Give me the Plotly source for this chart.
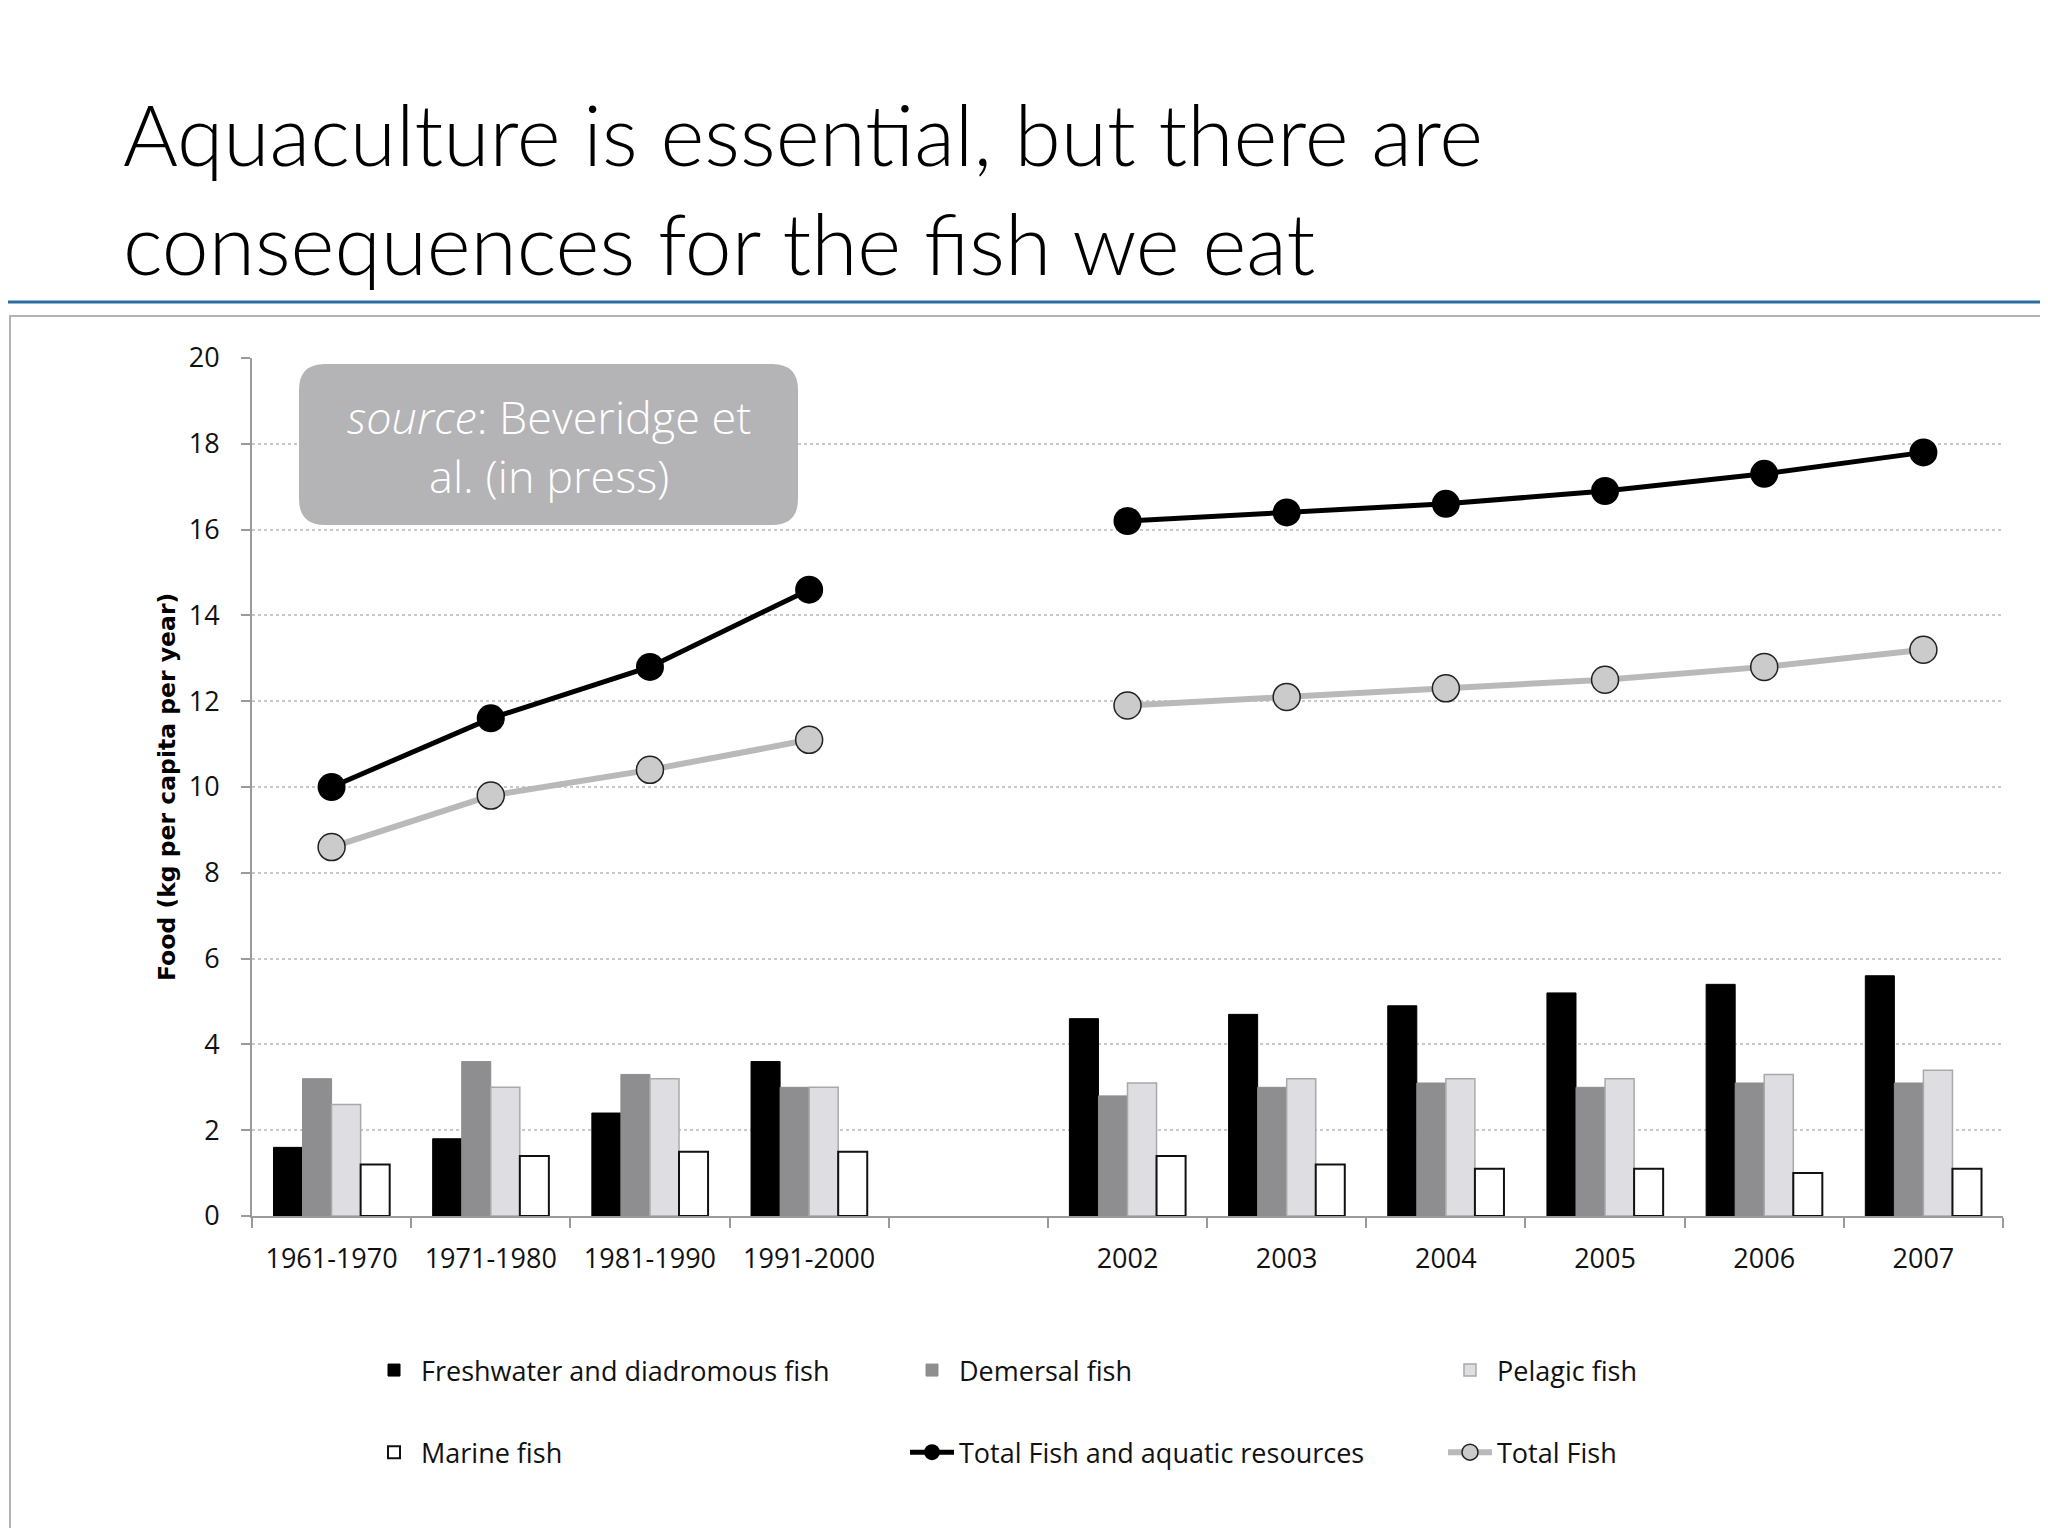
import plotly.graph_objects as go

# categories (one empty slot between the decades and the yearly values)
periods = ["1961-1970", "1971-1980", "1981-1990", "1991-2000", " ",
           "2002", "2003", "2004", "2005", "2006", "2007"]

# kg per capita per year
freshwater = [1.6, 1.8, 2.4, 3.6, None, 4.6, 4.7, 4.9, 5.2, 5.4, 5.6]
demersal = [3.2, 3.6, 3.3, 3.0, None, 2.8, 3.0, 3.1, 3.0, 3.1, 3.1]
pelagic = [2.6, 3.0, 3.2, 3.0, None, 3.1, 3.2, 3.2, 3.2, 3.3, 3.4]
marine = [1.2, 1.4, 1.5, 1.5, None, 1.4, 1.2, 1.1, 1.1, 1.0, 1.1]
total_aquatic = [10.0, 11.6, 12.8, 14.6, None, 16.2, 16.4, 16.6, 16.9, 17.3, 17.8]
total_fish = [8.6, 9.8, 10.4, 11.1, None, 11.9, 12.1, 12.3, 12.5, 12.8, 13.2]

# the page adds an 8px body margin, so the figure is a bit smaller
OFF = 8
W, H = 2048 - 2 * OFF, 1536 - 2 * OFF
# plot area in figure pixels
L, R, T, B = 252 - OFF, 2003 - OFF, 358 - OFF, 1216 - OFF


def px_x(px):
    # px is a page position
    return (px - OFF - L) / (R - L)


def px_y(py):
    return (B - (py - OFF)) / (B - T)


tickfont = dict(family="Open Sans", size=27, color="#111111")

fig = go.Figure()

fig.add_trace(go.Bar(x=periods, y=freshwater, name="Freshwater and diadromous fish",
                     marker=dict(color="#000000", line=dict(color="#000000", width=1)),
                     legend="legend", legendgroup="g1"))
fig.add_trace(go.Bar(x=periods, y=demersal, name="Demersal fish",
                     marker=dict(color="#8e8d90", line=dict(color="#8e8d90", width=1)),
                     legend="legend2", legendgroup="g2"))
fig.add_trace(go.Bar(x=periods, y=pelagic, name="Pelagic fish",
                     marker=dict(color="#dedde1", line=dict(color="#a9a9a9", width=1.5)),
                     legend="legend3", legendgroup="g3"))
fig.add_trace(go.Bar(x=periods, y=marine, name="Marine fish",
                     marker=dict(color="#ffffff", line=dict(color="#111111", width=2)),
                     legend="legend", legendgroup="g4"))
fig.add_trace(go.Scatter(x=periods, y=total_aquatic, name="Total Fish and aquatic resources",
                         mode="lines+markers", connectgaps=False,
                         line=dict(color="#000000", width=5),
                         marker=dict(size=28, color="#000000"),
                         legend="legend2", legendgroup="g5"))
fig.add_trace(go.Scatter(x=periods, y=total_fish, name="Total Fish",
                         mode="lines+markers", connectgaps=False,
                         line=dict(color="#b9b9b9", width=6),
                         marker=dict(size=27, color="#cbcbcb", line=dict(color="#222222", width=1.5)),
                         legend="legend3", legendgroup="g6"))

# rounded box for the source note
bx0, bx1, by0, by1 = px_x(299), px_x(798), px_y(525), px_y(364)
rx, ry = 26 / (R - L), 26 / (B - T)
box_path = (f"M{bx0 + rx},{by0} L{bx1 - rx},{by0} Q{bx1},{by0} {bx1},{by0 + ry} "
            f"L{bx1},{by1 - ry} Q{bx1},{by1} {bx1 - rx},{by1} "
            f"L{bx0 + rx},{by1} Q{bx0},{by1} {bx0},{by1 - ry} "
            f"L{bx0},{by0 + ry} Q{bx0},{by0} {bx0 + rx},{by0} Z")

shapes = [
    # outer frame round the chart
    dict(type="rect", xref="paper", yref="paper", layer="below",
         x0=px_x(10), x1=px_x(2045), y0=px_y(1535), y1=px_y(316),
         line=dict(color="#b3b3b3", width=2), fillcolor="rgba(0,0,0,0)"),
    # blue rule under the title
    dict(type="line", xref="paper", yref="paper",
         x0=px_x(0), x1=px_x(2048), y0=px_y(302), y1=px_y(302),
         line=dict(color="#2d6ca2", width=3)),
    dict(type="path", xref="paper", yref="paper", path=box_path,
         fillcolor="#b4b3b6", line=dict(width=0)),
]

title_font = dict(family="Lato", size=84, color="#000000", weight=300)
annotations = [
    dict(text="Aquaculture is essential, but there are", xref="paper", yref="paper",
         x=px_x(121), y=px_y(134), xanchor="left", yanchor="middle",
         showarrow=False, font=title_font),
    dict(text="consequences for the fish we eat", xref="paper", yref="paper",
         x=px_x(121), y=px_y(243), xanchor="left", yanchor="middle",
         showarrow=False, font=title_font),
    dict(text="<i>source</i>: Beveridge et<br>al. (in press)", xref="paper", yref="paper",
         x=px_x(549), y=px_y(446), xanchor="center", yanchor="middle",
         showarrow=False, align="center",
         font=dict(family="Open Sans", size=45, color="#ffffff", weight=300)),
    dict(text="Food (kg per capita per year)", xref="paper", yref="paper",
         x=px_x(167), y=px_y(787), xanchor="center", yanchor="middle",
         textangle=-90, showarrow=False,
         font=dict(family="DejaVu Sans", size=23.5, color="#000000", weight="bold")),
]

legend_common = dict(orientation="v", xanchor="left", yanchor="top",
                     itemwidth=44, tracegroupgap=44,
                     font=dict(family="Open Sans", size=27, color="#111111"),
                     bgcolor="rgba(0,0,0,0)", traceorder="grouped")
legend_top = px_y(1346)

fig.update_layout(
    width=W, height=H,
    margin=dict(l=L, r=W - R, t=T, b=H - B, autoexpand=False),
    paper_bgcolor="#ffffff", plot_bgcolor="#ffffff",
    barmode="group", bargap=0.27, bargroupgap=0,
    showlegend=True,
    legend=dict(legend_common, x=px_x(367), y=legend_top),
    legend2=dict(legend_common, x=px_x(905), y=legend_top),
    legend3=dict(legend_common, x=px_x(1443), y=legend_top),
    shapes=shapes,
    annotations=annotations,
    xaxis=dict(type="category", categoryorder="array", categoryarray=periods,
               range=[-0.5, len(periods) - 0.5],
               tickson="boundaries", ticks="outside", ticklen=10, tickwidth=1.5,
               tickcolor="#9a9a9a", showline=True, linecolor="#9a9a9a", linewidth=2,
               showgrid=False, tickfont=tickfont, ticklabelstandoff=18,
               automargin=False, fixedrange=True),
    yaxis=dict(range=[0, 20], dtick=2, ticks="outside", ticklen=9, tickwidth=1.5,
               tickcolor="#9a9a9a", showline=True, linecolor="#9a9a9a", linewidth=2,
               showgrid=True, gridcolor="#c9c9c9", griddash="dot", gridwidth=1.5,
               zeroline=False, tickfont=tickfont, ticklabelstandoff=16,
               automargin=False),
)

fig.write_html("out.html")
